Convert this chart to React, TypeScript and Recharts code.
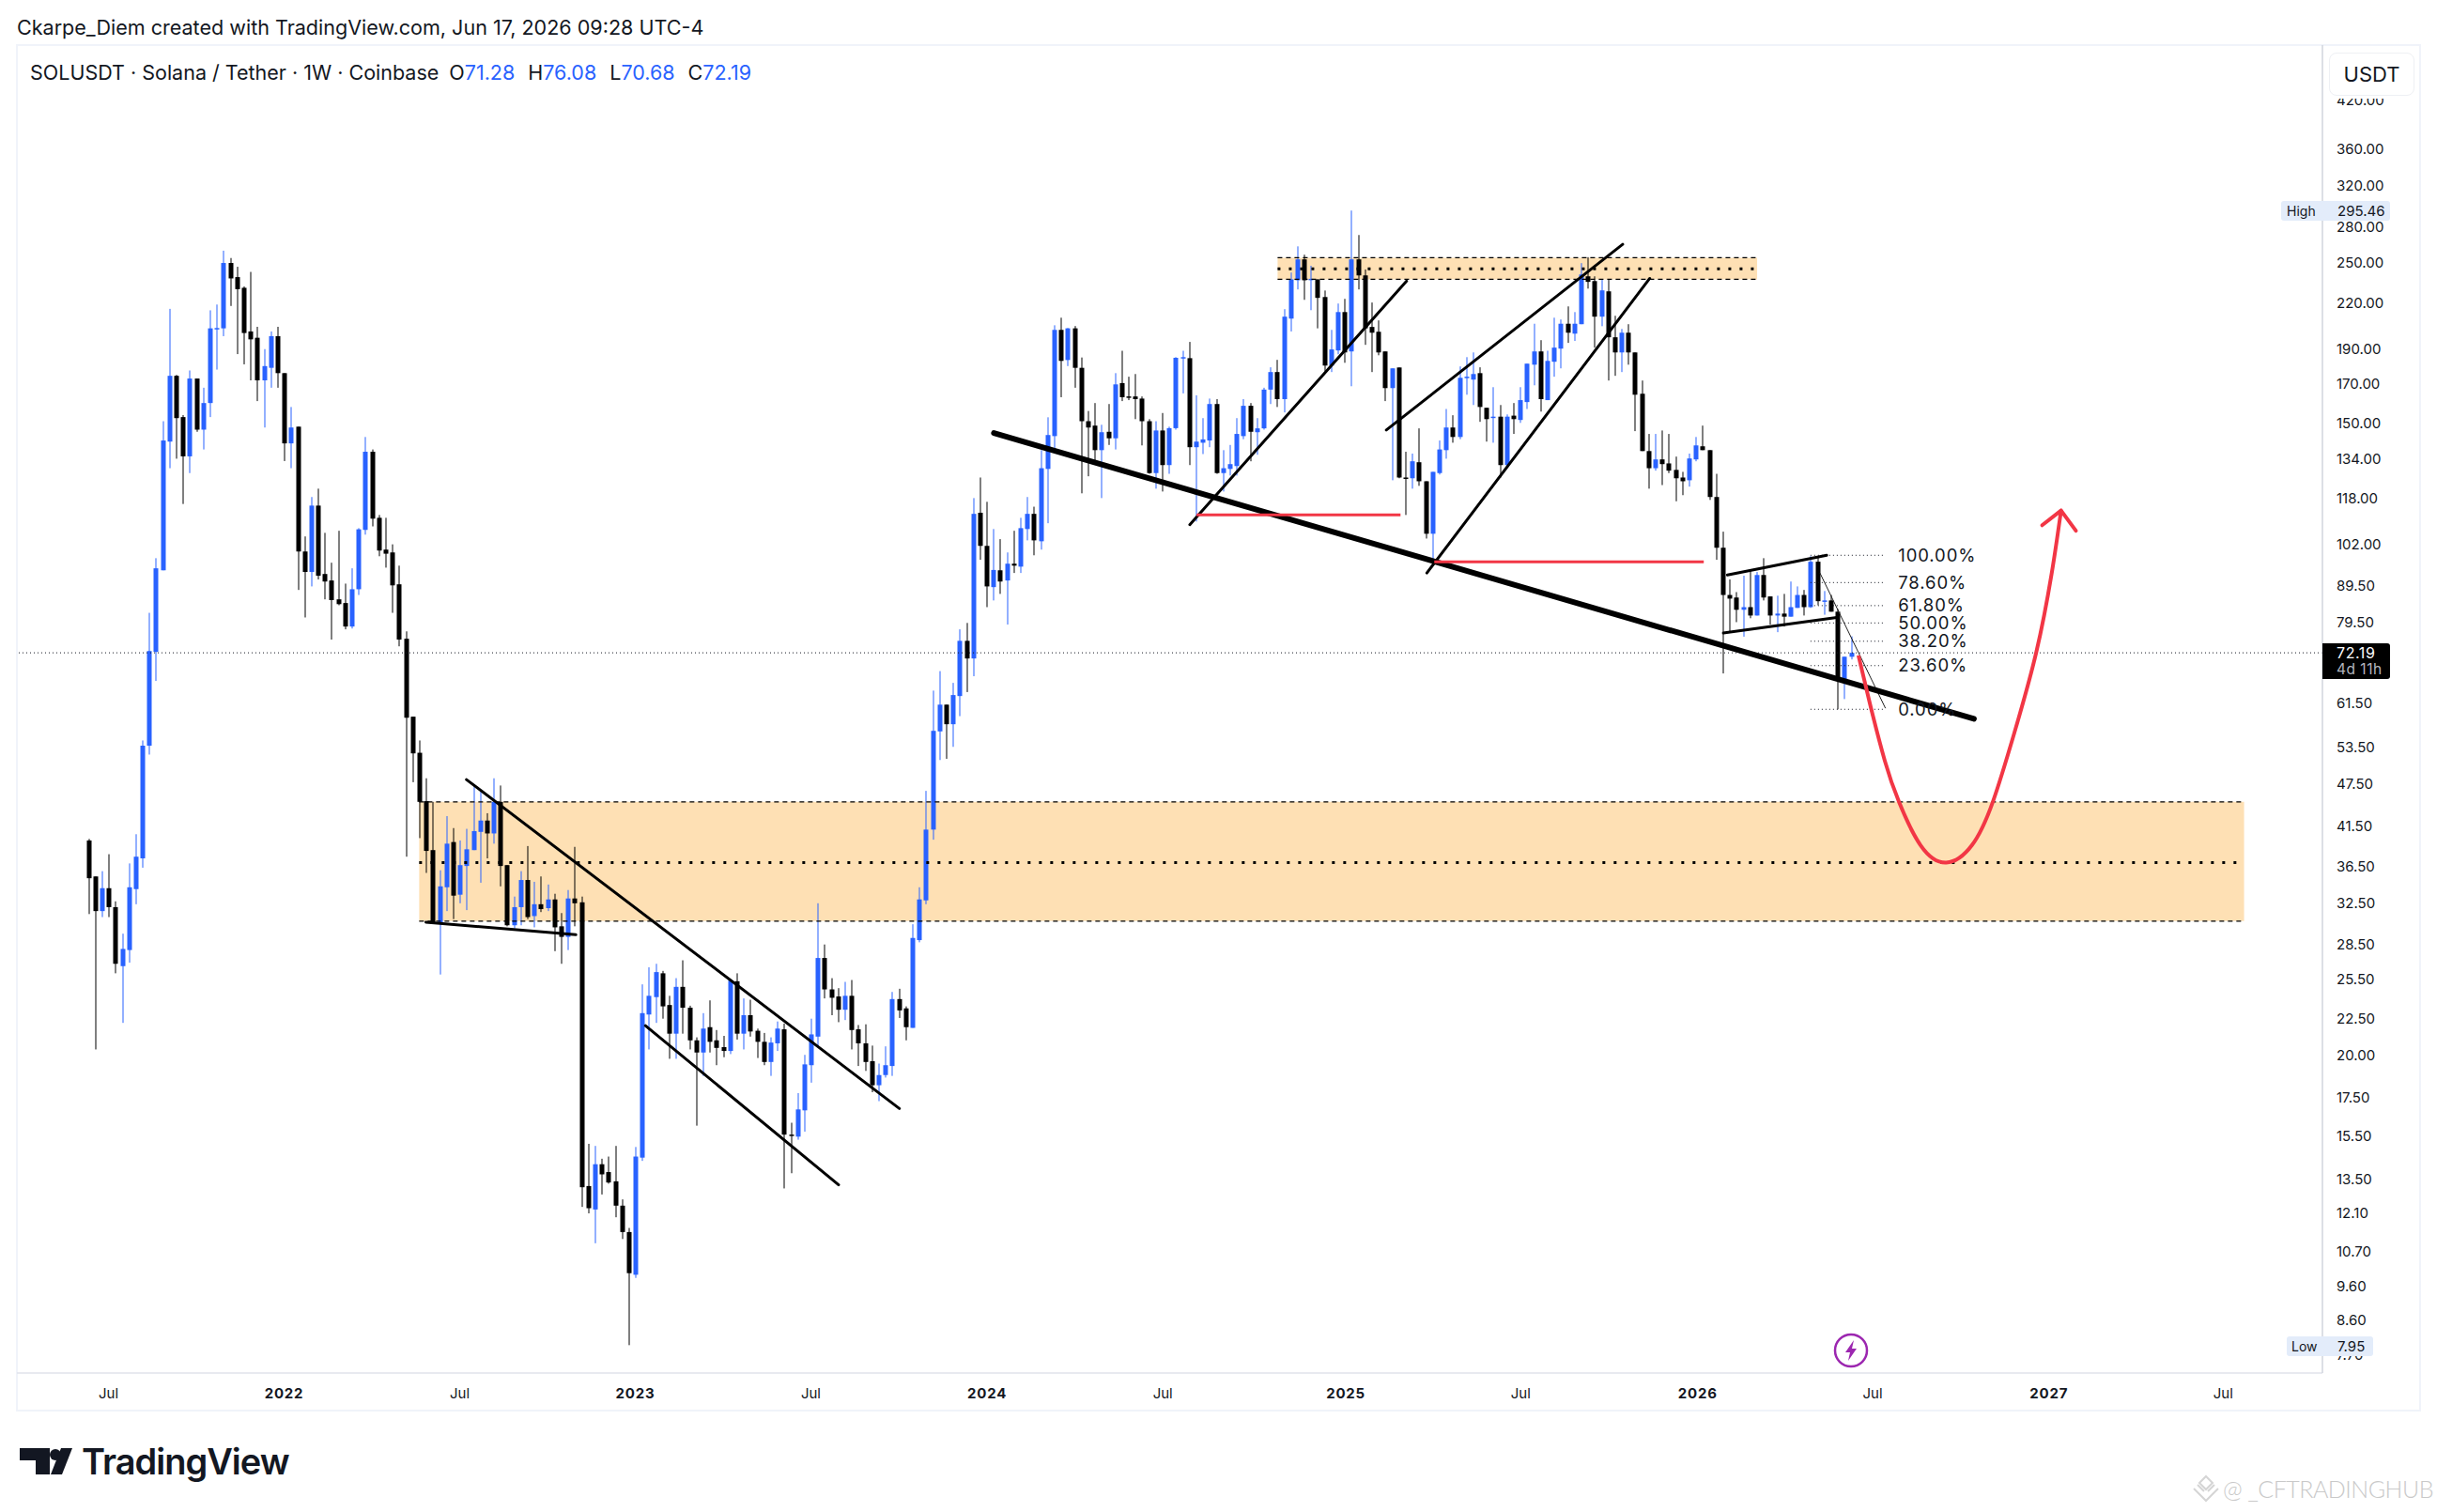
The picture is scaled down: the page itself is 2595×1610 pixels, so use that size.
import React from "react";
import { ComposedChart, Bar, Line, XAxis, YAxis, ReferenceArea, ReferenceLine } from "recharts";

type Ohlc = [number, number, number, number];

// Weekly candles, [open, high, low, close]
const candles2021: Ohlc[] = [
[39.7,39.9,31.4,35.2],[35.4,35.4,20.4,31.7],[31.7,36.0,31.1,34.1],[34.1,38.0,31.1,32.1],[32.1,32.7,26.0,26.8],
[26.6,29.5,22.2,28.1],[28.0,36.9,26.9,34.2],[34.0,40.5,32.4,37.7],[37.5,54.6,36.4,53.7],[53.7,82.0,52.2,72.6],
[72.4,97.6,66.0,94.5],[93.9,151,93.9,142],[141.5,216,130,174.5],[174.5,175,134,152.5],[153,154,116,135],
[135,177.5,128,173],[173,173,146,147],[147,168,138,160],[160,215,153,203],[202.8,219,178,203.2],
[203,260,198,250],[250,254,218,238],[239,247,187,230],[231,232,181,200],[201,243,172,196],
[197,204,161,172],[172,190,148,180],[179,201,168,198],[198,204,168,176],
];
const candles2022: Ohlc[] = [
[176,176,133,140.7],[140.7,158,130,148],[148.4,148.4,88.2,99.7],[99.7,104.6,80.8,93.4],[93.4,118.6,89.2,115.4],
[115.4,121.8,91.2,92.3],[92.8,105.8,85.6,90.6],[90.9,96.2,75.3,85.4],[85.6,106.5,84,84.3],[84.6,90,77.8,78.5],
[78.5,94.5,78,88.4],[88.4,107.4,86.8,107],[106.8,143.6,105.2,137],[137,138,108,110.7],[111,112,98.2,100],
[100.3,111,94.7,99],[99.4,102,82,89.5],[89.8,95.3,73.7,75.3],[75.5,77.3,37.7,58.7],[58.9,58.9,47.8,52.4],
[52.5,54.6,40,44.9],[45,48.4,35.8,38.4],[38.5,44.9,30.5,30.5],[30.5,36.1,25.9,34.3],[34.2,42.9,31.7,39.3],
[39.5,41.3,30.9,33.3],[33.4,39.7,32.5,36.7],[36.6,41.2,31.8,38.6],[38.5,47.4,38.5,40.9],[40.8,46.7,34.7,42.3],
[42.3,43.3,37.5,40.6],[40.6,48.4,39.3,44.9],[44.9,47.3,34.3,36.6],[36.7,36.7,30.2,30.3],[30.3,33.2,30,32.1],
[32.1,36,30.3,35],[35,39,30.9,31.1],[31.2,34.8,30.1,32.4],[32.4,35.4,31.6,31.9],[32,34.5,31.7,32.9],
[32.9,33.5,27.9,30.1],[30.2,31.5,26.8,29.2],[29.2,33.9,28,33],[33,38.9,30.2,32.5],[32.6,33.2,12.35,13.15],
[13.2,15.1,12.1,12.3],[12.25,15,11,14.15],[14.15,14.4,12.85,13.7],[13.8,14.5,13.3,13.35],[13.4,15,11.95,12.4],
[12.4,12.65,11.15,11.4],[11.4,11.55,7.95,10],
];
const candles2023: Ohlc[] = [
[9.95,14.95,9.85,14.5],[14.45,25.1,14.3,22.9],[22.8,26.5,20.4,24.2],[24.1,26.8,22.2,26.1],[26,26.2,22.5,23.4],
[23.5,24.2,19.8,21.45],[21.45,25.6,19.8,24.9],[24.9,27.1,21.45,23.3],[23.3,23.45,20.4,21],[21,21.2,16,20.2],
[20.2,22.9,18.75,21.8],[21.9,23.85,20.2,20.9],[21,21.7,19.4,20.5],[20.55,21.3,19.9,20.3],[20.3,25.5,20.1,25.4],
[25.35,26,21.05,21.45],[21.45,24,20.4,22.75],[22.75,23.9,21.25,21.6],[21.65,21.8,19.85,20.9],[20.9,21.5,19.4,19.6],
[19.6,21.2,18.75,20.85],[20.8,22.3,20.3,21.8],[21.75,22.15,13.1,15.55],[15.55,16.15,13.75,15.5],[15.45,17.75,15.3,16.85],
[16.8,20.05,15.7,19.45],[19.4,22.5,18.35,21.4],[21.25,32.5,20.55,27.3],[27.3,28.5,24,24.7],[24.7,25.6,22.75,24.05],
[24.15,24.8,22.25,23.15],[23.15,25.3,22.4,24.2],[24.2,25.45,20.4,21.7],[21.75,22.05,19.35,20.8],[20.8,22.1,19.05,19.6],
[19.65,20.65,17.8,18.2],[18.2,19.5,17.3,18.8],[18.8,20.6,18.65,19.4],[19.35,24.5,18.75,23.95],[23.95,24.75,22.55,23.1],
[23.25,23.4,21,21.9],[21.85,30.4,21.85,29.1],[28.9,34.2,28.7,32.9],[32.8,46.5,32.4,41.1],[41.1,64,39.8,56.3],
[56.2,68.1,51.3,61.2],[61.2,61.2,51.5,57.5],[57.5,65.6,53.5,63.1],[62.9,77.8,59,75],[75,79.4,63.7,70.9],
[70.9,118.2,67,112.4],[112.8,126.2,97.1,101.5],
];
const candles2024: Ohlc[] = [
[101.5,116.8,83.5,89.2],[89,107.1,85.3,94],[93.9,103.7,87.1,90.6],[90.9,99.4,79,95.9],[95.9,106.5,93.1,95.3],
[95,111,93.1,107.4],[107.1,118.6,103.3,112.4],[112.4,115,98.5,103.3],[103,137.7,100.3,130],[129.7,152.9,109.1,144.5],
[144,205,137,202],[202,210,163,183],[183.5,203.2,180,203],[203,204.5,168,179],[179,185,120,151],
[151,156,126.7,148],[148.9,160,132.9,137.7],[137.7,149.3,118.2,145.8],[146,159.5,140,143],[143,176,138,169.8],
[170.5,189,161,163],[163.4,174,161.5,163.2],[163.4,175.5,152,162],[162.3,163.4,139.8,151],[151,152,127.7,128],
[128,151,121.8,146.6],[146.6,155,120.7,131.3],[131.3,148.4,127.7,147.7],[147.7,185.2,147,184.8],[185,189,165,185.2],
[184.6,194.4,131.3,139],[139,164,109.7,141.5],[141,152.5,136,142.5],[142,162.3,139,159.5],[159.5,162,127.7,128],
[128,137.7,120.7,130],[129.7,140,127,131.7],[130.9,152.5,127,145],[144,162,142.6,158.6],[158.6,160,132.9,146],
[145.8,152.5,135.7,147.6],[147.6,168,147,167],[167,179.3,159.5,176.6],[176.6,183.6,158,162],[162,215.8,155.3,210.7],
[209.4,242.5,201,237.3],[236.6,263.6,229.8,252.9],[252.9,256.7,222.3,236.6],[237.3,247.8,215.1,237.7],[237.3,237.3,203,223.7],
[224.3,229,177,180.3],[180.3,202,176.6,189.8],
];
const candles2025: Ohlc[] = [
[189.2,219.7,186.9,213.8],[213.8,223,181.9,188],[188.6,295.46,168.8,252.9],[252.9,273.3,229.8,240.3],[240.3,244.9,192.6,203],
[203.9,220.4,176.6,200.2],[200.8,208.2,186.3,188],[188.6,188.6,161,167.8],[167.8,178.7,125.1,178.7],[179.2,179.2,125.9,126.2],
[126.2,137,112,126],[125.9,136.2,121.8,132.9],[132.5,147.6,122.9,124.7],[124.7,124.7,103.9,105.5],[105.5,128.5,96.8,128.5],
[128,142,127.4,138],[137.7,157,134,148],[148,153.9,141,143.6],[143.6,179.8,142.6,173.4],[173.7,185.2,164.3,174],
[172.4,188,159,175.5],[176,179.3,150.7,158],[157.6,157.6,141.5,152],[153,168.3,141,153.2],[153.2,159,126.2,131.3],
[131.3,154.3,130.9,153.2],[153.7,160,145,152],[151.6,168.3,150.2,161.5],[160.5,181.4,157,181.4],[180.8,206,169.3,188.6],
[188.6,195.5,155.7,162],[161.5,189,161.5,183],[182.5,210,174,190.9],[190.3,208.8,178.7,206],[206,217.7,193.8,200.2],
[199.6,213.8,195,206],[205.7,249.9,205.7,241],[239.6,254.7,230.4,235.4],[236,239.6,190.9,210.7],[210.7,237.3,204.4,229.1],
[228.4,237.3,171.9,197.3],[197.3,211.3,174.5,188],[188,202.6,176.6,200.2],[200.2,205.7,180.8,188],[188,188,146.3,164.3],
[164.8,171.9,137.3,137.3],[137.3,145,121.8,130],[130,145,129,133.7],[133.7,146.6,123.2,131.7],[132,145,128,129],
[129.3,134.9,117,125.9],[126.2,128.5,119.3,124.7],[125.1,136.2,122.6,134.1],[133.7,143.6,132.9,139.8],
];
const candles2026: Ohlc[] = [
[139.4,148.9,137.7,137.7],[137.7,137.7,117.5,118.6],[118.6,127.7,97.1,100.9],[100.9,106.2,67.6,86.8],[86.8,91.2,77.3,85.8],
[86.1,87.6,79.6,82.8],[82.8,92.3,76,83.5],[83.5,93.7,80.6,81.3],[81.3,93.4,81.3,92.5],[92.5,97.6,85.3,86.1],
[86.4,86.4,79,81.3],[81.3,86.6,77.1,81.8],[81.8,87.1,78.5,81],[81,90.6,81,83.5],[83.3,89.2,83.3,86.8],
[86.8,88.2,81.3,83.5],[83.5,98.2,83.3,96.5],[96.5,98.2,84,85.1],[85.2,87.9,81.5,85.3],[85.3,86.8,82.3,82.3],
[82.3,83,60.3,66.4],[66.4,71.3,62.3,71.3],[71.28,76.08,70.68,72.19],
];

const xTickWeeks = [2.9, 28.9, 54.9, 80.9, 106.9, 133, 159, 186.1, 212, 238.2, 264.1, 290.2, 316];
const xTickLabels = ["Jul", "2022", "Jul", "2023", "Jul", "2024", "Jul", "2025", "Jul", "2026", "Jul", "2027", "Jul"];
const yTicks = [420, 360, 320, 280, 250, 220, 190, 170, 150, 134, 118, 102, 89.5, 79.5, 61.5, 53.5, 47.5, 41.5, 36.5, 32.5, 28.5, 25.5, 22.5, 20, 17.5, 15.5, 13.5, 12.1, 10.7, 9.6, 8.6, 7.7];

// Zones: [week from, week to, price low, price mid, price high]
const supplyZone = [176, 247, 237.3, 245.4, 254.2];
const demandZone = [48.9, 319.1, 30.7, 37, 44.9];

// Trend lines: [week, price, week, price]
const heavyTrend = [134, 145.4, 279.1, 58.5];
const mediumTrends = [
  [55.9, 48.2, 120, 16.9],
  [49.9, 30.6, 72.1, 29.4],
  [82.4, 22, 111, 13.25],
  [163, 108.6, 195.1, 236],
  [198.1, 93.1, 231.1, 238],
  [192.1, 146.8, 227.1, 265.3],
  [242.6, 92.5, 257.3, 98.5],
  [242, 76.9, 258.8, 80.8],
];
const thinTrend = [256.3, 93.1, 266, 60.5];
const redLevels = [
  [164, 112, 194.2, 112],
  [199.2, 96.5, 239.1, 96.5],
];
const arrowHead = [
  [289.2, 108.4, 292, 113.6],
  [292, 113.6, 294.2, 106.5],
];
const curveWeeks = [262, 263.7, 265.9, 268, 271.2, 275, 278.8, 281.9, 285.1, 288.3, 290.6, 292];
const curvePrices = [71.6, 61.4, 51.2, 44.9, 39.1, 37, 39.1, 44.9, 56, 72.1, 92.8, 113.6];

const fibLabels = ["100.00%", "78.60%", "61.80%", "50.00%", "38.20%", "23.60%", "0.00%"];
const fibPrices = [98.5, 90.3, 83.9, 79.4, 74.9, 69.3, 60.3];
const fibWeeks = [254.9, 265.8];
const lastPrice = 72.19;

const rows = [...candles2021, ...candles2022, ...candles2023, ...candles2024, ...candles2025, ...candles2026].map(
  ([open, high, low, close], week) => ({ week, open, high, low, close, range: [low, high] })
);
const curve = curveWeeks.map((week, i) => ({ week, price: curvePrices[i] }));

const BLUE = "#2962FF";
const RED = "#F23645";
const FONT = "Inter, 'Liberation Sans', sans-serif";
const INK = "#131722";

function Candle(props: any) {
  const { x, y, width, height, payload } = props;
  const { open, high, low, close } = payload;
  const lh = Math.log(high);
  const span = lh - Math.log(low) || 1;
  const toY = (p: number) => y + (height * (lh - Math.log(p))) / span;
  const color = close >= open ? BLUE : "#000000";
  const top = toY(Math.max(open, close));
  const bottom = toY(Math.min(open, close));
  const cx = x + width / 2;
  return (
    <g>
      <rect x={Math.round(cx) - 0.5} y={y} width={1} height={height} fill={color} />
      <rect x={Math.round(cx) - 2.5} y={top} width={5} height={Math.max(bottom - top, 1.5)} fill={color} />
    </g>
  );
}

function XTick(props: any) {
  const { x, y, payload } = props;
  const label = xTickLabels[xTickWeeks.indexOf(payload.value)];
  const isYear = label !== "Jul";
  return (
    <text
      x={x}
      y={y + 15}
      textAnchor="middle"
      dominantBaseline="middle"
      fontFamily={FONT}
      fontSize={15}
      fontWeight={isYear ? 700 : 400}
      letterSpacing={isYear ? 0.8 : 0}
      fill={INK}
    >
      {label}
    </text>
  );
}

const abs = (left: number, top: number, extra: React.CSSProperties = {}): React.CSSProperties => ({
  position: "absolute",
  left,
  top,
  fontFamily: FONT,
  whiteSpace: "nowrap",
  ...extra,
});

function segment(l: number[]) {
  return [
    { x: l[0], y: l[1] },
    { x: l[2], y: l[3] },
  ] as any;
}

function zoneParts(z: number[], key: string) {
  const [from, to, low, mid, high] = z;
  return [
    <ReferenceArea key={key + "a"} x1={from} x2={to} y1={low} y2={high} fill="#FEE0B4" fillOpacity={1} stroke="none" />,
    <ReferenceLine key={key + "h"} segment={segment([from, high, to, high])} stroke="#000" strokeWidth={1.2} strokeDasharray="5 4" />,
    <ReferenceLine key={key + "l"} segment={segment([from, low, to, low])} stroke="#000" strokeWidth={1.2} strokeDasharray="5 4" />,
    <ReferenceLine key={key + "m"} segment={segment([from, mid, to, mid])} stroke="#000" strokeWidth={3} strokeDasharray="3 9" />,
  ];
}

export default function App() {
  return (
    <div style={{ position: "absolute", left: 0, top: 0, width: 2595, height: 1610, overflow: "hidden", background: "#fff" }}>
      <div style={{ position: "absolute", left: 17, top: 47, width: 2561, height: 1456, boxSizing: "border-box", border: "2px solid #F0F3FA" }} />
      <div style={abs(18, 15, { fontSize: 21.55, lineHeight: "28px", color: INK })}>Ckarpe_Diem created with TradingView.com, Jun 17, 2026 09:28 UTC-4</div>
      <div style={abs(32, 63, { fontSize: 21.5, lineHeight: "28px", color: INK })}>
        SOLUSDT · Solana / Tether · 1W · Coinbase{"  "}
        <span style={{ marginLeft: 5 }}>O</span><span style={{ color: BLUE }}>71.28</span>
        <span style={{ marginLeft: 14 }}>H</span><span style={{ color: BLUE }}>76.08</span>
        <span style={{ marginLeft: 14 }}>L</span><span style={{ color: BLUE }}>70.68</span>
        <span style={{ marginLeft: 14 }}>C</span><span style={{ color: BLUE }}>72.19</span>
      </div>

      <div style={{ position: "absolute", left: 0, top: 0 }}>
        <ComposedChart width={2595} height={1610} data={rows} margin={{ top: 48, right: 18, bottom: 108, left: 18 }}>
          <XAxis
            dataKey="week"
            type="number"
            domain={[-10.66, 330.7]}
            allowDataOverflow
            ticks={xTickWeeks}
            interval={0}
            height={40}
            tickLine={false}
            axisLine={{ stroke: "#E0E3EB", strokeWidth: 1.5 }}
            tick={<XTick />}
          />
          <YAxis
            orientation="right"
            scale="log"
            type="number"
            domain={[7.275, 500.6]}
            allowDataOverflow
            ticks={yTicks}
            interval={0}
            width={104}
            tickLine={false}
            tickMargin={9}
            axisLine={{ stroke: "#D1D4DC", strokeWidth: 1.5 }}
            tick={{ fontFamily: FONT, fontSize: 15, fill: INK }}
            tickFormatter={(v: number) => v.toFixed(2)}
          />
          {zoneParts(supplyZone, "s")}
          {zoneParts(demandZone, "d")}
          <ReferenceLine y={lastPrice} stroke={INK} strokeWidth={1} strokeDasharray="1 3" />
          <Bar dataKey="range" barSize={5} shape={<Candle />} isAnimationActive={false} />
          {fibPrices.map((p, i) => (
            <ReferenceLine
              key={fibLabels[i]}
              segment={segment([fibWeeks[0], p, fibWeeks[1], p])}
              stroke={INK}
              strokeWidth={1}
              strokeDasharray="1 3"
              label={{ value: fibLabels[i], position: "right", offset: 15, fontFamily: FONT, fontSize: 18.5, letterSpacing: 0.9, fill: INK }}
            />
          ))}
          <ReferenceLine segment={segment(thinTrend)} stroke="#222" strokeWidth={1} />
          {mediumTrends.map((l, i) => (
            <ReferenceLine key={"t" + i} segment={segment(l)} stroke="#000" strokeWidth={3} strokeLinecap="round" />
          ))}
          <ReferenceLine segment={segment(heavyTrend)} stroke="#000" strokeWidth={6} strokeLinecap="round" />
          {redLevels.map((l, i) => (
            <ReferenceLine key={"r" + i} segment={segment(l)} stroke={RED} strokeWidth={3} />
          ))}
          <Line data={curve} dataKey="price" type="natural" dot={false} stroke={RED} strokeWidth={4} isAnimationActive={false} />
          {arrowHead.map((l, i) => (
            <ReferenceLine key={"a" + i} segment={segment(l)} stroke={RED} strokeWidth={4} strokeLinecap="round" />
          ))}
        </ComposedChart>
      </div>

      <div style={abs(2474, 49, { width: 102, height: 56, background: "#fff" })} />
      <div style={abs(2480, 56, { width: 89, height: 44, background: "#fff", border: "1px solid #EEF0F4", borderRadius: 8, fontSize: 22, lineHeight: "44px", textAlign: "center", color: INK })}>USDT</div>

      <div style={abs(2429, 214, { width: 116, height: 21, background: "#E3ECFA", borderRadius: 3 })} />
      <div style={abs(2435, 214, { fontSize: 14, lineHeight: "21px", color: INK })}>High</div>
      <div style={abs(2489, 214, { fontSize: 15, lineHeight: "21px", color: INK })}>295.46</div>

      <div style={abs(2435, 1423, { width: 92, height: 21, background: "#E3ECFA", borderRadius: 3 })} />
      <div style={abs(2440, 1423, { fontSize: 14, lineHeight: "21px", color: INK })}>Low</div>
      <div style={abs(2489, 1423, { fontSize: 15, lineHeight: "21px", color: INK })}>7.95</div>

      <div style={abs(2473, 685, { width: 72, height: 38, background: "#000", borderRadius: "0 3px 3px 0" })} />
      <div style={abs(2488, 685, { fontSize: 16, lineHeight: "20px", letterSpacing: 0.6, color: "#fff" })}>72.19</div>
      <div style={abs(2488, 704, { fontSize: 15.5, lineHeight: "18px", letterSpacing: 0.5, color: "#B2B5BE" })}>4d 11h</div>

      <svg style={{ position: "absolute", left: 1951, top: 1418 }} width={40} height={40} viewBox="0 0 40 40">
        <circle cx={20} cy={20} r={17} fill="#fff" stroke="#9C27B0" strokeWidth={2.5} />
        <path d="M23 9 L14 22 H19 L17 31 L26 18 H21 Z" fill="#9C27B0" />
      </svg>

      <svg style={{ position: "absolute", left: 21, top: 1541 }} width={56} height={30} viewBox="0 0 56 30">
        <path d="M0 1 H32 V29 H17 V14 H0 Z" fill="#131722" />
        <circle cx={38} cy={8} r={6} fill="#131722" />
        <path d="M44 1 H56 L45 29 H33 Z" fill="#131722" />
      </svg>
      <div style={abs(87, 1533, { fontSize: 38, lineHeight: "46px", fontWeight: 600, letterSpacing: -1, color: INK })}>TradingView</div>

      <svg style={{ position: "absolute", left: 2334, top: 1570 }} width={30} height={30} viewBox="0 0 30 30">
        <path d="M15 2 L22 9 L15 16 L8 9 Z M6 11 L13 18 M24 11 L17 18 M2 15 L15 28 L28 15" fill="none" stroke="#D5D5D5" strokeWidth={2} />
      </svg>
      <div style={abs(2367, 1568, { fontSize: 25, lineHeight: "34px", fontWeight: 300, letterSpacing: -0.5, fontFamily: "Lato, sans-serif", color: "#C9C9C9" })}>@ _CFTRADINGHUB</div>
    </div>
  );
}
